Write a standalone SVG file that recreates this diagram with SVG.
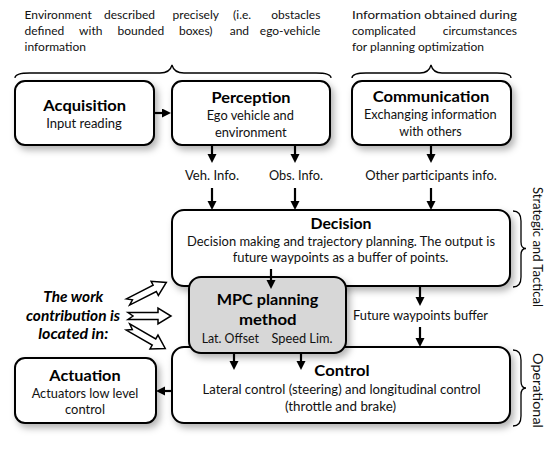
<svg xmlns="http://www.w3.org/2000/svg" width="550" height="451" viewBox="0 0 550 451">
<style>
text{font-family:Lato,"Open Sans","Liberation Sans",sans-serif;fill:#111}
.b{font-size:12.5px}
.h{font-size:16px;font-weight:bold;fill:#000}
.i{font-size:15px;font-weight:bold;font-style:italic;fill:#000}
.top{font-size:12px}
.box{fill:#fff;stroke:#000;stroke-width:2}
.mpc{fill:#d7d7d7;stroke:#000;stroke-width:2}
.c{stroke:#000;stroke-width:2.2;fill:none}
.br{stroke:#000;stroke-width:1.3;fill:none}
.ha{fill:#fff;stroke:#000;stroke-width:1.5;stroke-linejoin:miter}
</style>
<defs>
<filter id="sh" x="-20%" y="-20%" width="140%" height="150%">
<feDropShadow dx="3" dy="4" stdDeviation="3.5" flood-color="#000" flood-opacity="0.3"/>
</filter>
<marker id="ah" markerUnits="userSpaceOnUse" markerWidth="10" markerHeight="10" refX="5" refY="4.5" orient="auto">
<path d="M0,0 L9,4.5 L0,9 z" fill="#000"/>
</marker>
<path id="harrow" d="M0,-3.5 L30,-3.5 L30,-8 L43,0 L30,8 L30,3.5 L0,3.5 L5,0 z"/>
</defs>

<g id="top-notes">
<text class="top" y="18.5"><tspan x="24.6">Environment</tspan> <tspan x="104">described</tspan> <tspan x="172.6">precisely</tspan> <tspan x="233.1">(i.e.</tspan> <tspan x="320.4" text-anchor="end">obstacles</tspan></text>
<text class="top" y="35"><tspan x="24.6">defined</tspan> <tspan x="79.1">with</tspan> <tspan x="117.6">bounded</tspan> <tspan x="179.1">boxes)</tspan> <tspan x="229.7">and</tspan> <tspan x="320.4" text-anchor="end">ego-vehicle</tspan></text>
<text class="top" x="24.6" y="51">information</text>
<text class="top" x="352" y="18.5" textLength="165" lengthAdjust="spacingAndGlyphs">Information obtained during</text>
<text class="top" y="35"><tspan x="352">complicated</tspan> <tspan x="517" text-anchor="end">circumstances</tspan></text>
<text class="top" x="352" y="51" textLength="132" lengthAdjust="spacingAndGlyphs">for planning optimization</text>
<path class="br" d="M15,78 Q15,73 30,73 L160,73 Q170,73 172,65 Q174,73 184,73 L316,73 Q331,73 331,78"/>
<path class="br" d="M352,78 Q352,73 366,73 L420,73 Q429,73 431,65 Q433,73 442,73 L497,73 Q511,73 511,78"/>
</g>

<g id="acquisition">
<rect class="box" filter="url(#sh)" x="15" y="81" width="139" height="64" rx="10"/>
<text class="h" x="84.7" y="111" text-anchor="middle" textLength="82.7" lengthAdjust="spacingAndGlyphs">Acquisition</text>
<text class="b" x="84" y="128" text-anchor="middle" textLength="75.7" lengthAdjust="spacingAndGlyphs">Input reading</text>
</g>

<g id="perception">
<rect class="box" filter="url(#sh)" x="172" y="81" width="158" height="64" rx="10"/>
<text class="h" x="251" y="103" text-anchor="middle" textLength="79" lengthAdjust="spacingAndGlyphs">Perception</text>
<text class="b" x="250.3" y="119.5" text-anchor="middle" textLength="87.3" lengthAdjust="spacingAndGlyphs">Ego vehicle and</text>
<text class="b" x="250.8" y="136.5" text-anchor="middle" textLength="71.7" lengthAdjust="spacingAndGlyphs">environment</text>
</g>

<g id="communication">
<rect class="box" filter="url(#sh)" x="352" y="81" width="159" height="64" rx="10"/>
<text class="h" x="431" y="102" text-anchor="middle" textLength="116.7" lengthAdjust="spacingAndGlyphs">Communication</text>
<text class="b" x="430.3" y="118.5" text-anchor="middle" textLength="132.7" lengthAdjust="spacingAndGlyphs">Exchanging information</text>
<text class="b" x="430.5" y="135.5" text-anchor="middle" textLength="62.3" lengthAdjust="spacingAndGlyphs">with others</text>
</g>

<g id="labels">
<text class="b" x="212" y="179.5" text-anchor="middle" textLength="54" lengthAdjust="spacingAndGlyphs">Veh. Info.</text>
<text class="b" x="296" y="179.5" text-anchor="middle" textLength="54" lengthAdjust="spacingAndGlyphs">Obs. Info.</text>
<text class="b" x="431" y="179.5" text-anchor="middle" textLength="131.7" lengthAdjust="spacingAndGlyphs">Other participants info.</text>
<text class="b" x="420.5" y="320" text-anchor="middle" textLength="135" lengthAdjust="spacingAndGlyphs">Future waypoints buffer</text>
</g>

<g id="decision">
<rect class="box" filter="url(#sh)" x="172" y="210" width="338" height="76" rx="12"/>
<text class="h" x="341" y="228.5" text-anchor="middle" textLength="61" lengthAdjust="spacingAndGlyphs">Decision</text>
<text class="b" x="341" y="245.5" text-anchor="middle" textLength="308" lengthAdjust="spacingAndGlyphs">Decision making and trajectory planning. The output is</text>
<text class="b" x="340.5" y="262" text-anchor="middle" textLength="215.7" lengthAdjust="spacingAndGlyphs">future waypoints as a buffer of points.</text>
<path class="br" d="M513,211 Q521,211 521,221 L521,242 Q521,248.5 526,248.5 Q521,248.5 521,255 L521,277 Q521,287 513,287"/>
<text class="b" transform="translate(533,247) rotate(90)" text-anchor="middle" textLength="120" lengthAdjust="spacingAndGlyphs">Strategic and Tactical</text>
</g>

<g id="control">
<rect class="box" filter="url(#sh)" x="172" y="347" width="338" height="76" rx="12"/>
<text class="h" x="342" y="375.5" text-anchor="middle" textLength="55.3" lengthAdjust="spacingAndGlyphs">Control</text>
<text class="b" x="341.5" y="394" text-anchor="middle" textLength="278" lengthAdjust="spacingAndGlyphs">Lateral control (steering) and longitudinal control</text>
<text class="b" x="340.5" y="411" text-anchor="middle" textLength="111" lengthAdjust="spacingAndGlyphs">(throttle and brake)</text>
<path class="br" d="M513,350 Q521,350 521,360 L521,381 Q521,388 526,388 Q521,388 521,395 L521,416 Q521,426 513,426"/>
<text class="b" transform="translate(533,390.5) rotate(90)" text-anchor="middle" textLength="75" lengthAdjust="spacingAndGlyphs">Operational</text>
</g>

<g id="mpc">
<rect class="mpc" filter="url(#sh)" x="189" y="277" width="157" height="76" rx="12"/>
<text class="h" x="267.5" y="305" text-anchor="middle" font-size="17" textLength="101.7" lengthAdjust="spacingAndGlyphs">MPC planning</text>
<text class="h" x="267.8" y="325" text-anchor="middle" font-size="17" textLength="57.7" lengthAdjust="spacingAndGlyphs">method</text>
<text class="b" x="230.3" y="343" text-anchor="middle" textLength="57.3" lengthAdjust="spacingAndGlyphs">Lat. Offset</text>
<text class="b" x="302" y="343" text-anchor="middle" textLength="61" lengthAdjust="spacingAndGlyphs">Speed Lim.</text>
</g>

<g id="actuation">
<rect class="box" filter="url(#sh)" x="15" y="358" width="141" height="65" rx="10"/>
<text class="h" x="85" y="381" text-anchor="middle" textLength="71.3" lengthAdjust="spacingAndGlyphs">Actuation</text>
<text class="b" x="85" y="398" text-anchor="middle" textLength="106.7" lengthAdjust="spacingAndGlyphs">Actuators low level</text>
<text class="b" x="85" y="414" text-anchor="middle" textLength="40" lengthAdjust="spacingAndGlyphs">control</text>
</g>

<g id="contribution">
<text class="i" x="73.3" y="301.5" text-anchor="middle" textLength="60" lengthAdjust="spacingAndGlyphs">The work</text>
<text class="i" x="73" y="320.5" text-anchor="middle" textLength="94" lengthAdjust="spacingAndGlyphs">contribution is</text>
<text class="i" x="73.3" y="338.5" text-anchor="middle" textLength="70" lengthAdjust="spacingAndGlyphs">located in:</text>
<use href="#harrow" class="ha" transform="translate(128,302) rotate(-27)"/>
<use href="#harrow" class="ha" transform="translate(128,316)"/>
<use href="#harrow" class="ha" transform="translate(128,327) rotate(30)"/>
</g>

<g id="connectors">
<line class="c" x1="154" y1="113" x2="167" y2="113" marker-end="url(#ah)"/>
<line class="c" x1="212" y1="145" x2="212" y2="159" marker-end="url(#ah)"/>
<line class="c" x1="295" y1="145" x2="295" y2="159" marker-end="url(#ah)"/>
<line class="c" x1="431" y1="145" x2="431" y2="159" marker-end="url(#ah)"/>
<line class="c" x1="212" y1="188" x2="212" y2="206" marker-end="url(#ah)"/>
<line class="c" x1="295" y1="188" x2="295" y2="206" marker-end="url(#ah)"/>
<line class="c" x1="431" y1="188" x2="431" y2="206" marker-end="url(#ah)"/>
<line class="c" x1="271" y1="269" x2="271" y2="285" marker-end="url(#ah)"/>
<line class="c" x1="420" y1="286" x2="420" y2="302" marker-end="url(#ah)"/>
<line class="c" x1="420" y1="327" x2="420" y2="343" marker-end="url(#ah)"/>
<line class="c" x1="234" y1="353" x2="234" y2="366" marker-end="url(#ah)"/>
<line class="c" x1="301" y1="353" x2="301" y2="366" marker-end="url(#ah)"/>
<line class="c" x1="172" y1="391" x2="160" y2="391" marker-end="url(#ah)"/>
</g>
</svg>
